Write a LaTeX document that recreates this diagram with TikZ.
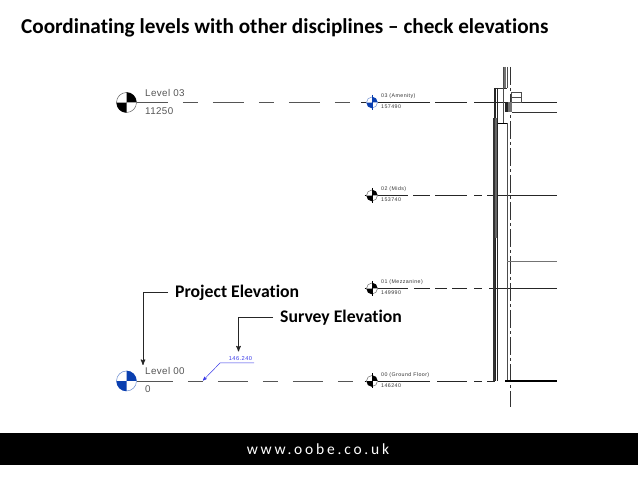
\documentclass[tikz,border=0pt]{standalone}
\usepackage{fontspec}
\usepackage{tikz}
\usetikzlibrary{arrows}
\setmainfont[Ligatures=NoCommon]{Carlito}
\newfontfamily\cadfont[LetterSpace=4]{Liberation Sans}
\newfontfamily\surveyfont[LetterSpace=8]{Liberation Sans}
\newfontfamily\webfont[LetterSpace=18,Ligatures=NoCommon]{Carlito}
\definecolor{headblue}{HTML}{0A3FB0}
\definecolor{cadgray}{HTML}{555555}
\definecolor{surveyblue}{HTML}{3A3AE8}

% level head: name, position, radius, colour
\newcommand{\levelhead}[4]{
	\node[circle,draw=#4!60!white,line width=0.5pt,minimum size=#3*2pt,inner sep=0pt] (#1) at (#2) {};
	\fill[#4] (#1.center) -- (#1.north) arc (90:0:#3pt) -- cycle;
	\fill[#4] (#1.center) -- (#1.south) arc (270:180:#3pt) -- cycle;
}
% the small heads of the survey levels carry a cross
\newcommand{\smallhead}[2]{
	\levelhead{#1}{#2}{5.5}{black}
	\draw[thin,black] ([yshift=7.5pt]#1.center) -- ([yshift=-7.5pt]#1.center);
	\draw[thin,black] ([xshift=-7.5pt]#1.center) -- (#1.west);
}

\begin{document}
\begin{tikzpicture}
	[x=1pt,y=1pt,>=stealth',
		level text/.style={font=\cadfont\fontsize{9.8}{12}\selectfont,text=cadgray,anchor=west,inner sep=0pt},
		survey text/.style={font=\surveyfont\fontsize{5.3}{6}\selectfont,text=black!80,anchor=west,inner sep=0pt},
		callout/.style={font=\bfseries\fontsize{17.7}{20}\selectfont,anchor=west,inner sep=0pt},
		callout line/.style={->,line width=1pt,black!85,shorten <=7pt},
		level line/.style={line width=0.8pt,cadgray},
		grid line/.style={line width=0.7pt,black!85},
		wall line/.style={line width=0.7pt,black!80},
		heavy wall/.style={line width=1.2pt,black!85}]
	\useasboundingbox (0,0) rectangle (638,478);

	\node[font=\bfseries\fontsize{21.2}{24}\selectfont,anchor=west,inner sep=0pt] (title) at (21,450) {Coordinating levels with other disciplines – check elevations};

	% left heads
	\levelhead{L03}{126.5,375.5}{10}{black}
	\levelhead{L00}{126.5,97}{10}{headblue}
	\node[level text] (L03name) at (145,384.5) {Level 03};
	\node[level text] (L03value) at (145,367) {11250};
	\node[level text] (L00name) at (145,106.5) {Level 00};
	\node[level text] (L00value) at (145,88.5) {0};

	% right heads
	\levelhead{R03}{372,375.5}{5.5}{headblue}
	\draw[thin,headblue] ([yshift=7.5pt]R03.center) -- ([yshift=-7.5pt]R03.center);
	\smallhead{R02}{372,282.5}
	\smallhead{R01}{372,189.5}
	\smallhead{R00}{372,97}
	\node[survey text] (R03name) at (381,381.5) {03 (Amenity)};
	\node[survey text] (R03value) at (381,371.5) {157490};
	\node[survey text] (R02name) at (381,288.5) {02 (Mids)};
	\node[survey text] (R02value) at (381,278) {153740};
	\node[survey text] (R01name) at (381,196) {01 (Mezzanine)};
	\node[survey text] (R01value) at (381,185.5) {149990};
	\node[survey text] (R00name) at (381,103) {00 (Ground Floor)};
	\node[survey text] (R00value) at (381,92.5) {146240};

	% level lines
	\coordinate (E03) at (557,375.5);
	\coordinate (E02) at (557,282.5);
	\coordinate (E01) at (557,189.5);
	\coordinate (E00) at (557,97);
	\coordinate (S03) at (361,375.5);
	\draw[level line,dash pattern=on 31pt off 15pt on 15pt off 15pt] (L03.east) -- (R03.west);
	\draw[level line,dash pattern=on 36pt off 15pt on 15pt off 15pt on 30pt off 15pt on 15pt off 15pt on 30pt off 15pt on 15pt off 50pt] (L00.east) -- (R00.west);
	\draw[grid line] (S03) -- (R03.west);
	\draw[grid line,dash pattern=on 52.5pt off 5pt on 32pt off 7pt on 83pt off 0pt] (R03.east) -- (E03);
	\draw[grid line,dash pattern=on 30.5pt off 5pt on 17pt off 5pt on 32pt off 7pt on 8pt off 5pt on 70pt off 0pt] (R02.east) -- (E02);
	\draw[grid line,dash pattern=on 30.5pt off 6pt on 16pt off 5pt on 12pt off 5pt on 15pt off 7pt on 8pt off 7pt on 68pt off 0pt] (R01.east) -- (E01);
	\draw[grid line,dash pattern=on 52.5pt off 7pt on 30pt off 7pt on 8pt off 5pt on 8pt off 70pt] (R00.east) -- (E00);

	% wall section
	\coordinate (Wtop) at (510,411);
	\coordinate (Wbot) at (510,71);
	\draw[line width=0.6pt,black!80,dash pattern=on 18pt off 3pt on 3pt off 3pt] (Wtop) -- (Wbot);
	\draw[line width=1.6pt,black!55] (505,411) -- (505,390);
	\draw[line width=0.5pt,black!70] (503,411) -- (503,390) (507,411) -- (507,390);
	\draw[wall line] (495,390) -- (507,390);
	\draw[heavy wall] (495,390) -- (495,97);
	\draw[heavy wall] (497.5,390) -- (497.5,97);
	\draw[line width=1.4pt,black!80] (494,360) -- (494,97);
	\draw[line width=2pt,black!60] (496,360) -- (496,240);
	\draw[line width=0.5pt,black!70] (503.5,390) -- (503.5,355) -- (507.3,355) -- (507.3,97);
	\draw[line width=0.5pt] (497.5,355) -- (507.3,355);
	\draw[line width=0.6pt,black!70] (511,386) rectangle (521,375.5);
	\draw[line width=0.6pt,black!70] (511,381) -- (521,381);
	\fill[black!85] (505,375.5) rectangle (508,366);
	\fill[black!55] (508,375.5) rectangle (512,366);
	\coordinate (Fa) at (512,366);
	\coordinate (Fb) at (557,366);
	\coordinate (Ga) at (507.3,217);
	\coordinate (Gb) at (557,217);
	\coordinate (Ha) at (505,97);
	\draw[wall line] (Fa) -- (Fb);
	\draw[line width=0.6pt,black!55] (Ga) -- (Gb);
	\draw[line width=1.4pt,black] (Ha) -- (E00);

	% call outs
	\node[callout] (project) at (175,185.5) {Project Elevation};
	\node[callout] (survey) at (280,160.5) {Survey Elevation};
	\coordinate (projecttip) at (143,113);
	\coordinate (surveytip) at (238.5,126.5);
	\draw[callout line] (project.west) -| (projecttip);
	\draw[callout line] (survey.west) -| (surveytip);

	% survey tag
	\node[font=\surveyfont\fontsize{5.7}{7}\selectfont,text=surveyblue,inner sep=0pt] (tag) at (240.5,119) {146.240};
	\coordinate (tagend) at (254,115);
	\coordinate (tagknee) at (220,115);
	\coordinate (tagtip) at (203,97.5);
	\draw[surveyblue,line width=0.5pt,-stealth'] (tagend) -- (tagknee) -- (tagtip);

	% footer
	\fill[black] (0,13) rectangle (638,45);
	\node[text=white,font=\webfont\fontsize{15.5}{20}\selectfont,inner sep=0pt] (footer) at (318,29) {www.oobe.co.uk};
\end{tikzpicture}
\end{document}
